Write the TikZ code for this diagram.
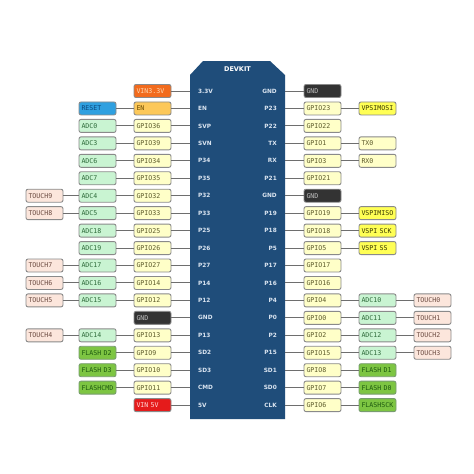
\documentclass[tikz,border=0pt]{standalone}
\usepackage{fontspec}
\setmainfont{DejaVu Sans}
\newfontfamily\boxfont{DejaVu Sans Mono}
\newfontfamily\pinfont{DejaVu Sans}
\definecolor{boardc}{HTML}{1F4D7A}
\definecolor{pintext}{HTML}{DCE6F2}
\definecolor{bord}{HTML}{8A8A8A}
\definecolor{connc}{HTML}{6E6E6E}
\definecolor{gpiof}{HTML}{FFFFC8}\definecolor{gpiot}{HTML}{5C5A2A}
\definecolor{adcf}{HTML}{C9F4D2}\definecolor{adct}{HTML}{2E6B3A}
\definecolor{touchf}{HTML}{FCE6DC}\definecolor{toucht}{HTML}{6B4A40}
\definecolor{gndf}{HTML}{333333}\definecolor{gndt}{HTML}{C0C0C0}
\definecolor{flashf}{HTML}{7DC542}\definecolor{flasht}{HTML}{1E5A10}
\definecolor{vspif}{HTML}{FFFF55}\definecolor{vspit}{HTML}{3A3A00}
\definecolor{resetf}{HTML}{2FA0E0}\definecolor{resett}{HTML}{0C4A80}
\definecolor{enf}{HTML}{FCC85A}\definecolor{ent}{HTML}{6A4A00}
\definecolor{vinthf}{HTML}{F26B1D}\definecolor{vintht}{HTML}{FFD8B0}
\definecolor{vinfvf}{HTML}{E51B1B}\definecolor{vinfvt}{HTML}{FFD8D8}
\tikzset{
  pbox/.style={draw=bord, line width=0.9pt, rounded corners=2pt, text width=32pt, align=left, inner xsep=2.5pt, inner ysep=0pt, minimum height=13pt, font=\boxfont\fontsize{6.6}{7}\selectfont},
  gpio/.style={pbox, fill=gpiof, text=gpiot},
  adc/.style={pbox, fill=adcf, text=adct},
  touch/.style={pbox, fill=touchf, text=toucht},
  gnd/.style={pbox, fill=gndf, text=gndt},
  flash/.style={pbox, fill=flashf, text=flasht, draw=flasht!60},
  vspi/.style={pbox, fill=vspif, text=vspit},
  reset/.style={pbox, fill=resetf, text=resett},
  en/.style={pbox, fill=enf, text=ent},
  vinth/.style={pbox, fill=vinthf, text=vintht},
  vinfv/.style={pbox, fill=vinfvf, text=vinfvt},
  pinl/.style={text=pintext, inner sep=0pt, font=\pinfont\bfseries\fontsize{5.8}{7}\selectfont},
  conn/.style={draw=connc, line width=1pt},
}
\newcommand\RY[1]{{91+17.45*#1}}
\begin{document}
\begin{tikzpicture}[x=1pt,y=-1pt]
\useasboundingbox (0,0) rectangle (474,474);
\fill[white] (0,0) rectangle (474,474);
% board
\fill[boardc] (190,75) -- (203,61) -- (270,61) -- (285,75) -- (285,419) -- (190,419) -- cycle;
\node[text=white, font=\pinfont\bfseries\fontsize{6.5}{7}\selectfont] (title) at (237.5,69) {DEVKIT};
% left pin labels and edge points
\foreach \i/\p in {0/3.3V,1/EN,2/SVP,3/SVN,4/P34,5/P35,6/P32,7/P33,8/P25,9/P26,10/P27,11/P14,12/P12,13/GND,14/P13,15/SD2,16/SD3,17/CMD,18/5V}{
  \node[pinl, anchor=west] (pl\i) at (198,\RY{\i}) {\p};
  \coordinate (el\i) at (190,\RY{\i});
}
\foreach \i/\p in {0/GND,1/P23,2/P22,3/TX,4/RX,5/P21,6/GND,7/P19,8/P18,9/P5,10/P17,11/P16,12/P4,13/P0,14/P2,15/P15,16/SD1,17/SD0,18/CLK}{
  \node[pinl, anchor=east] (pr\i) at (277,\RY{\i}) {\p};
  \coordinate (er\i) at (285,\RY{\i});
}
% left column 1 (x=152.5)
\node[vinth] (a0) at (152.5,\RY{0}) {VIN3.3V};
\node[en] (a1) at (152.5,\RY{1}) {EN};
\node[gpio] (a2) at (152.5,\RY{2}) {GPIO36};
\node[gpio] (a3) at (152.5,\RY{3}) {GPIO39};
\node[gpio] (a4) at (152.5,\RY{4}) {GPIO34};
\node[gpio] (a5) at (152.5,\RY{5}) {GPIO35};
\node[gpio] (a6) at (152.5,\RY{6}) {GPIO32};
\node[gpio] (a7) at (152.5,\RY{7}) {GPIO33};
\node[gpio] (a8) at (152.5,\RY{8}) {GPIO25};
\node[gpio] (a9) at (152.5,\RY{9}) {GPIO26};
\node[gpio] (a10) at (152.5,\RY{10}) {GPIO27};
\node[gpio] (a11) at (152.5,\RY{11}) {GPIO14};
\node[gpio] (a12) at (152.5,\RY{12}) {GPIO12};
\node[gnd] (a13) at (152.5,\RY{13}) {GND};
\node[gpio] (a14) at (152.5,\RY{14}) {GPIO13};
\node[gpio] (a15) at (152.5,\RY{15}) {GPIO9};
\node[gpio] (a16) at (152.5,\RY{16}) {GPIO10};
\node[gpio] (a17) at (152.5,\RY{17}) {GPIO11};
\node[vinfv] (a18) at (152.5,\RY{18}) {VIN 5V};
\foreach \i in {0,...,18}{\draw[conn] (a\i.east) -- (el\i);}
% left column 2 (x=97.5)
\node[reset] (b1) at (97.5,\RY{1}) {RESET};
\node[adc] (b2) at (97.5,\RY{2}) {ADC0};
\node[adc] (b3) at (97.5,\RY{3}) {ADC3};
\node[adc] (b4) at (97.5,\RY{4}) {ADC6};
\node[adc] (b5) at (97.5,\RY{5}) {ADC7};
\node[adc] (b6) at (97.5,\RY{6}) {ADC4};
\node[adc] (b7) at (97.5,\RY{7}) {ADC5};
\node[adc] (b8) at (97.5,\RY{8}) {ADC18};
\node[adc] (b9) at (97.5,\RY{9}) {ADC19};
\node[adc] (b10) at (97.5,\RY{10}) {ADC17};
\node[adc] (b11) at (97.5,\RY{11}) {ADC16};
\node[adc] (b12) at (97.5,\RY{12}) {ADC15};
\node[adc] (b14) at (97.5,\RY{14}) {ADC14};
\node[flash] (b15) at (97.5,\RY{15}) {FLASH D2};
\node[flash] (b16) at (97.5,\RY{16}) {FLASH D3};
\node[flash] (b17) at (97.5,\RY{17}) {FLASHCMD};
\foreach \i in {1,...,12,14,15,16,17}{\draw[conn] (b\i.east) -- (a\i.west);}
% left column 3 (x=44.5)
\node[touch] (c6) at (44.5,\RY{6}) {TOUCH9};
\node[touch] (c7) at (44.5,\RY{7}) {TOUCH8};
\node[touch] (c10) at (44.5,\RY{10}) {TOUCH7};
\node[touch] (c11) at (44.5,\RY{11}) {TOUCH6};
\node[touch] (c12) at (44.5,\RY{12}) {TOUCH5};
\node[touch] (c14) at (44.5,\RY{14}) {TOUCH4};
\foreach \i in {6,7,10,11,12,14}{\draw[conn] (c\i.east) -- (b\i.west);}
% right column 1 (x=322.5)
\node[gnd] (d0) at (322.5,\RY{0}) {GND};
\node[gpio] (d1) at (322.5,\RY{1}) {GPIO23};
\node[gpio] (d2) at (322.5,\RY{2}) {GPIO22};
\node[gpio] (d3) at (322.5,\RY{3}) {GPIO1};
\node[gpio] (d4) at (322.5,\RY{4}) {GPIO3};
\node[gpio] (d5) at (322.5,\RY{5}) {GPIO21};
\node[gnd] (d6) at (322.5,\RY{6}) {GND};
\node[gpio] (d7) at (322.5,\RY{7}) {GPIO19};
\node[gpio] (d8) at (322.5,\RY{8}) {GPIO18};
\node[gpio] (d9) at (322.5,\RY{9}) {GPIO5};
\node[gpio] (d10) at (322.5,\RY{10}) {GPIO17};
\node[gpio] (d11) at (322.5,\RY{11}) {GPIO16};
\node[gpio] (d12) at (322.5,\RY{12}) {GPIO4};
\node[gpio] (d13) at (322.5,\RY{13}) {GPIO0};
\node[gpio] (d14) at (322.5,\RY{14}) {GPIO2};
\node[gpio] (d15) at (322.5,\RY{15}) {GPIO15};
\node[gpio] (d16) at (322.5,\RY{16}) {GPIO8};
\node[gpio] (d17) at (322.5,\RY{17}) {GPIO7};
\node[gpio] (d18) at (322.5,\RY{18}) {GPIO6};
\foreach \i in {0,...,18}{\draw[conn] (er\i) -- (d\i.west);}
% right column 2 (x=377.5)
\node[vspi] (e1) at (377.5,\RY{1}) {VPSIMOSI};
\node[gpio] (e3) at (377.5,\RY{3}) {TX0};
\node[gpio] (e4) at (377.5,\RY{4}) {RX0};
\node[vspi] (e7) at (377.5,\RY{7}) {VSPIMISO};
\node[vspi] (e8) at (377.5,\RY{8}) {VSPI SCK};
\node[vspi] (e9) at (377.5,\RY{9}) {VSPI SS};
\node[adc] (e12) at (377.5,\RY{12}) {ADC10};
\node[adc] (e13) at (377.5,\RY{13}) {ADC11};
\node[adc] (e14) at (377.5,\RY{14}) {ADC12};
\node[adc] (e15) at (377.5,\RY{15}) {ADC13};
\node[flash] (e16) at (377.5,\RY{16}) {FLASH D1};
\node[flash] (e17) at (377.5,\RY{17}) {FLASH D0};
\node[flash] (e18) at (377.5,\RY{18}) {FLASHSCK};
\foreach \i in {1,3,4,7,8,9,12,13,14,15,16,17,18}{\draw[conn] (d\i.east) -- (e\i.west);}
% right column 3 (x=432.5)
\node[touch] (f12) at (432.5,\RY{12}) {TOUCH0};
\node[touch] (f13) at (432.5,\RY{13}) {TOUCH1};
\node[touch] (f14) at (432.5,\RY{14}) {TOUCH2};
\node[touch] (f15) at (432.5,\RY{15}) {TOUCH3};
\foreach \i in {12,13,14,15}{\draw[conn] (e\i.east) -- (f\i.west);}
\end{tikzpicture}
\end{document}
